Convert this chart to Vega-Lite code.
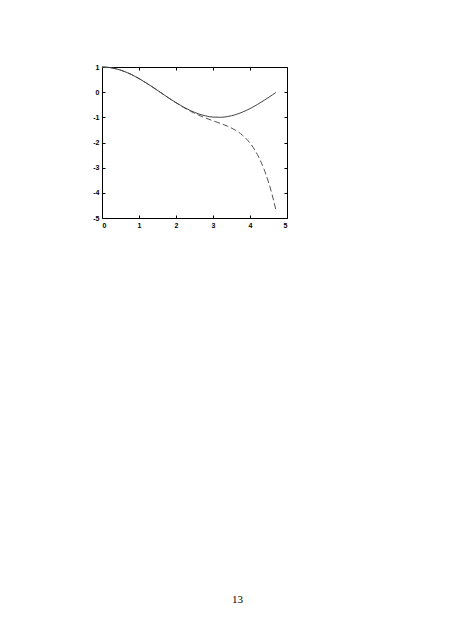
{
  "$schema": "https://vega.github.io/schema/vega-lite/v6.json",
  "autosize": "none",
  "padding": {"left": 102, "top": 67, "right": 187, "bottom": 414},
  "width": 185,
  "height": 151,
  "background": "white",
  "title": {
    "text": "13",
    "orient": "bottom",
    "anchor": "middle",
    "offset": 366,
    "dx": 43,
    "font": "Liberation Serif",
    "fontSize": 11,
    "fontWeight": "normal",
    "color": "#000"
  },
  "data": {
    "values": [
      {"x": 0, "y": 1, "s": "cos"},
      {"x": 0.2, "y": 0.98, "s": "cos"},
      {"x": 0.4, "y": 0.921, "s": "cos"},
      {"x": 0.6, "y": 0.825, "s": "cos"},
      {"x": 0.8, "y": 0.697, "s": "cos"},
      {"x": 1.0, "y": 0.54, "s": "cos"},
      {"x": 1.2, "y": 0.362, "s": "cos"},
      {"x": 1.4, "y": 0.17, "s": "cos"},
      {"x": 1.6, "y": -0.029, "s": "cos"},
      {"x": 1.8, "y": -0.227, "s": "cos"},
      {"x": 2.0, "y": -0.416, "s": "cos"},
      {"x": 2.2, "y": -0.589, "s": "cos"},
      {"x": 2.4, "y": -0.737, "s": "cos"},
      {"x": 2.6, "y": -0.857, "s": "cos"},
      {"x": 2.8, "y": -0.942, "s": "cos"},
      {"x": 3.0, "y": -0.99, "s": "cos"},
      {"x": 3.2, "y": -0.998, "s": "cos"},
      {"x": 3.4, "y": -0.967, "s": "cos"},
      {"x": 3.6, "y": -0.897, "s": "cos"},
      {"x": 3.8, "y": -0.791, "s": "cos"},
      {"x": 4.0, "y": -0.654, "s": "cos"},
      {"x": 4.2, "y": -0.49, "s": "cos"},
      {"x": 4.4, "y": -0.307, "s": "cos"},
      {"x": 4.6, "y": -0.112, "s": "cos"},
      {"x": 4.7, "y": -0.012, "s": "cos"},
      {"x": 0, "y": 1, "s": "approx"},
      {"x": 0.2, "y": 0.98, "s": "approx"},
      {"x": 0.4, "y": 0.921, "s": "approx"},
      {"x": 0.6, "y": 0.825, "s": "approx"},
      {"x": 0.8, "y": 0.697, "s": "approx"},
      {"x": 1.0, "y": 0.54, "s": "approx"},
      {"x": 1.2, "y": 0.362, "s": "approx"},
      {"x": 1.4, "y": 0.17, "s": "approx"},
      {"x": 1.6, "y": -0.03, "s": "approx"},
      {"x": 1.8, "y": -0.23, "s": "approx"},
      {"x": 2.0, "y": -0.422, "s": "approx"},
      {"x": 2.2, "y": -0.601, "s": "approx"},
      {"x": 2.4, "y": -0.763, "s": "approx"},
      {"x": 2.6, "y": -0.905, "s": "approx"},
      {"x": 2.8, "y": -1.028, "s": "approx"},
      {"x": 3.0, "y": -1.138, "s": "approx"},
      {"x": 3.2, "y": -1.242, "s": "approx"},
      {"x": 3.4, "y": -1.357, "s": "approx"},
      {"x": 3.6, "y": -1.505, "s": "approx"},
      {"x": 3.8, "y": -1.714, "s": "approx"},
      {"x": 4.0, "y": -2.022, "s": "approx"},
      {"x": 4.2, "y": -2.478, "s": "approx"},
      {"x": 4.4, "y": -3.141, "s": "approx"},
      {"x": 4.6, "y": -4.083, "s": "approx"},
      {"x": 4.7, "y": -4.684, "s": "approx"}
    ]
  },
  "layer": [
    {
      "transform": [{"filter": "datum.s === 'approx'"}],
      "mark": {"type": "line", "color": "#555", "strokeWidth": 1, "strokeDash": [6, 3], "interpolate": "monotone"},
      "encoding": {
        "x": {
          "field": "x", "type": "quantitative",
          "scale": {"domain": [0, 5], "nice": false, "zero": false},
          "axis": {"orient": "top", "labels": false, "values": [0, 1, 2, 3, 4, 5]}
        },
        "y": {
          "field": "y", "type": "quantitative",
          "scale": {"domain": [-5, 1], "nice": false, "zero": false},
          "axis": {"orient": "right", "labels": false, "values": [-5, -4, -3, -2, -1, 0, 1]}
        }
      }
    },
    {
      "transform": [{"filter": "datum.s === 'cos'"}],
      "mark": {"type": "line", "color": "#444", "strokeWidth": 1, "interpolate": "monotone"},
      "encoding": {
        "x": {
          "field": "x", "type": "quantitative",
          "axis": {"orient": "bottom", "values": [0, 1, 2, 3, 4, 5], "labelExpr": "'' + datum.value", "labelPadding": 6}
        },
        "y": {
          "field": "y", "type": "quantitative",
          "axis": {"orient": "left", "values": [-5, -4, -3, -2, -1, 0, 1], "labelExpr": "'' + datum.value", "labelPadding": 6}
        }
      }
    }
  ],
  "resolve": {"axis": {"x": "independent", "y": "independent"}},
  "config": {
    "view": {"stroke": "#000", "strokeWidth": 1},
    "axis": {
      "title": null,
      "grid": false,
      "domain": false,
      "tickColor": "#000",
      "tickSize": -3,
      "tickWidth": 1,
      "labelFont": "Liberation Sans",
      "labelFontSize": 7,
      "labelFontWeight": "bold",
      "labelColor": "#000",
      "labelPadding": 3
    }
  }
}
